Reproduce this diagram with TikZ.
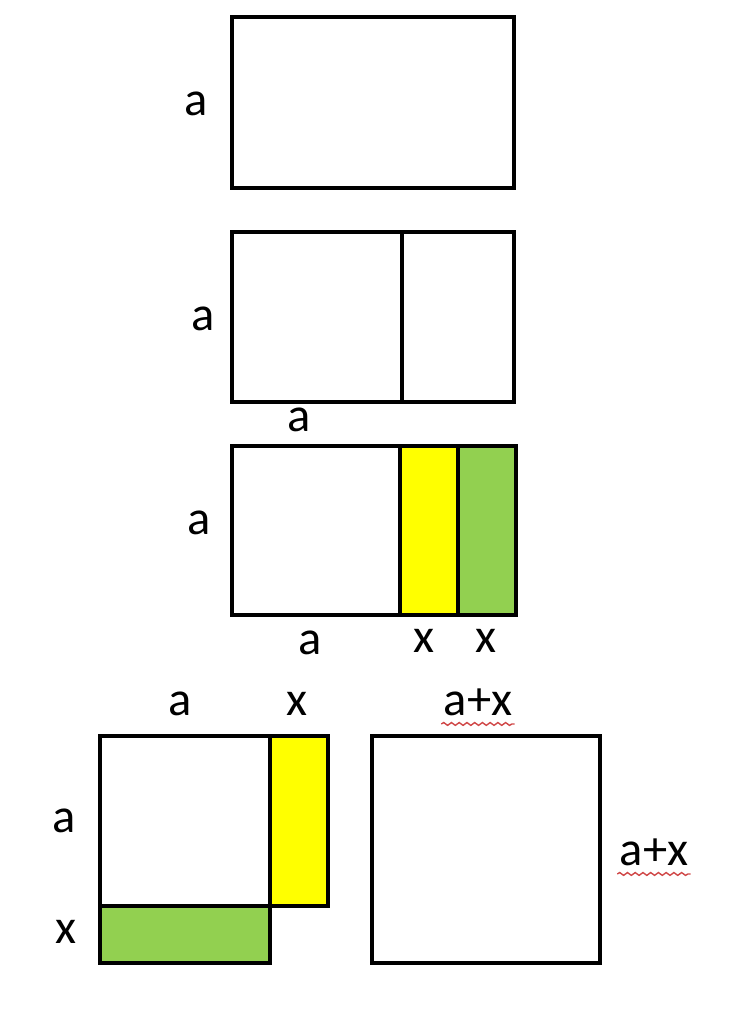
\documentclass[tikz,border=0pt]{standalone}
\usepackage{fontspec}
\setmainfont{Carlito}
\usetikzlibrary{decorations.pathmorphing}
\definecolor{ogreen}{HTML}{92D050}
\definecolor{oyellow}{HTML}{FFFF00}
\definecolor{squiggle}{HTML}{D04848}
\tikzset{
  box/.style={draw, line width=1pt},
  lbl/.style={font=\fontsize{13.8}{16.5}\selectfont, inner sep=0pt},
  wavy/.style={squiggle, line width=0.4pt, decorate,
    decoration={snake, amplitude=0.4pt, segment length=2.2pt}}
}

\begin{document}
\begin{tikzpicture}[x=0.01cm, y=-0.01cm]
  \useasboundingbox (0,0) rectangle (736,1018);

  % first rectangle
  \draw[box] (232,17) rectangle (514,188);
  \node[lbl] (a1) at (196,104) {a};

  % second rectangle
  \draw[box] (232,232) rectangle (514,402);
  \draw[box] (402,232) -- (402,402);
  \node[lbl] (a2) at (203,319) {a};
  \node[lbl] (a3) at (299,420) {a};

  % third rectangle
  \draw[box, fill=oyellow] (400,446) rectangle (458,615);
  \draw[box, fill=ogreen] (458,446) rectangle (516,615);
  \draw[box] (232,446) rectangle (516,615);
  \node[lbl] (a4) at (199,523) {a};
  \node[lbl] (a5) at (310,643) {a};
  \node[lbl] (x1) at (424,641) {x};
  \node[lbl] (x2) at (486,641) {x};

  % square with strips
  \draw[box] (100,736) rectangle (270,906);
  \draw[box, fill=oyellow] (270,736) rectangle (328,906);
  \draw[box, fill=ogreen] (100,906) rectangle (270,963);
  \node[lbl] (a6) at (180,704) {a};
  \node[lbl] (x3) at (297,704) {x};
  \node[lbl] (a7) at (64,821) {a};
  \node[lbl] (x4) at (66,932) {x};

  % big square
  \draw[box] (372,736) rectangle (600,963);
  \node[lbl] (ax1) at (478,702) {a+x};
  \node[lbl] (ax2) at (654,852) {a+x};
  \draw[wavy] ([xshift=-0.5pt, yshift=-2.2pt]ax1.south west) -- ([xshift=0.5pt, yshift=-2.2pt]ax1.south east);
  \draw[wavy] ([xshift=-0.5pt, yshift=-2.2pt]ax2.south west) -- ([xshift=0.5pt, yshift=-2.2pt]ax2.south east);
\end{tikzpicture}
\end{document}
